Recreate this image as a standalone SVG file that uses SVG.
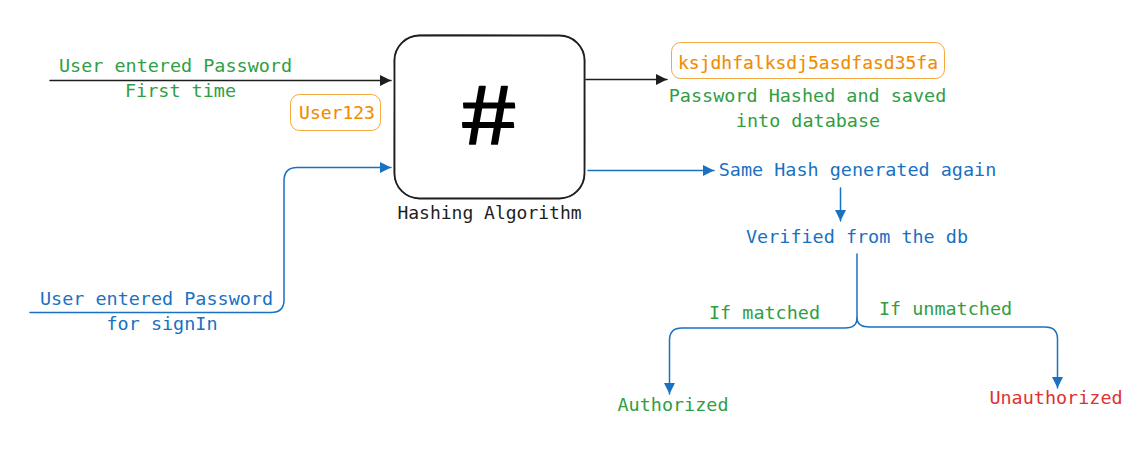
<svg xmlns="http://www.w3.org/2000/svg" width="1142" height="456" viewBox="0 0 1142 456">
<style>
text{font-family:"DejaVu Sans Mono","Liberation Mono",monospace;font-size:18.450px;text-anchor:middle}
.g{fill:#2f9e44}.b{fill:#1971c2}.r{fill:#e03131}
.o{fill:#f08c00;font-size:18px;stroke:#f08c00;stroke-width:.12px}
.k{fill:#1e1e1e;font-size:18px}
.c{fill:none;stroke-width:1.5;stroke-linecap:round;stroke-linejoin:round}
.cb{stroke:#1971c2}.ck{stroke:#1e1e1e}
.tag{fill:none;stroke:#f08c00;stroke-width:1;opacity:.75}
</style>
<defs>
<marker id="ak" markerUnits="userSpaceOnUse" markerWidth="12" markerHeight="12" refX="11" refY="6" orient="auto"><path d="M0 0L11 5.500L0 11Z" transform="translate(0 .5)" fill="#1e1e1e"/></marker>
<marker id="ab" markerUnits="userSpaceOnUse" markerWidth="12" markerHeight="12" refX="11" refY="6" orient="auto"><path d="M0 0L11 5.500L0 11Z" transform="translate(0 .5)" fill="#1971c2"/></marker>
</defs>
<rect width="1142" height="456" fill="#fff"/>
<g id="connectors">
<path class="c ck" marker-end="url(#ak)" d="M50 80.500H391"/>
<path class="c ck" marker-end="url(#ak)" d="M586 79.500H667"/>
<path class="c cb" marker-end="url(#ab)" d="M30 312.500H271Q284 312.500 284 300V181Q284 167.500 297 167.500H391"/>
<path class="c cb" marker-end="url(#ab)" d="M588 170.500H714"/>
<path class="c cb" marker-end="url(#ab)" d="M840.500 188V221"/>
<path class="c cb" marker-end="url(#ab)" d="M857 254V318Q857 328 845 328H682Q669.500 328 669.500 340V394"/>
<path class="c cb" marker-end="url(#ab)" d="M857 318Q857 327 870 327H1045Q1057.500 327 1057.500 339V388"/>
</g>
<g id="hash-node">
<rect x="394.500" y="35.500" width="190" height="163" rx="25" fill="#fff" stroke="#1e1e1e" stroke-width="1.800"/>
<path d="M420 35C470 34 530 36 560 35.500C574 36 585 47 585 60C584.500 100 585.500 150 584.500 172C584 187 573 198 559 198.500C520 199 450 198 420 198.500C405 198 394 186 394 172C393.500 130 395 90 394 60C394.500 46 406 36 420 35Z" fill="none" stroke="#1e1e1e" stroke-width="1" opacity=".5"/>
<text transform="translate(490.500 143.500) skewX(4) scale(1.140 1)" style="font-size:84px;font-family:'Liberation Sans',Arial,sans-serif" fill="#000" stroke="#000" stroke-width="1.700" stroke-linejoin="round">#</text>
<text class="k" x="489.500" y="219">Hashing Algorithm</text>
</g>
<g id="input-first">
<text class="g" x="175.500" y="72">User entered Password</text>
<text class="g" x="180.500" y="97">First time</text>
</g>
<g id="user123">
<rect class="tag" x="290.500" y="94.500" width="90" height="36" rx="9"/>
<text class="o" x="337" y="119">User123</text>
</g>
<g id="hash-value">
<rect class="tag" x="671.500" y="42.500" width="273" height="36" rx="9"/>
<text class="o" x="808" y="69">ksjdhfalksdj5asdfasd35fa</text>
</g>
<g id="saved">
<text class="g" x="807.500" y="102">Password Hashed and saved</text>
<text class="g" x="808" y="127">into database</text>
</g>
<g id="input-signin">
<text class="b" x="156.500" y="305">User entered Password</text>
<text class="b" x="162" y="330">for signIn</text>
</g>
<g id="same-hash">
<text class="b" x="857.500" y="176">Same Hash generated again</text>
</g>
<g id="verified">
<text class="b" x="857" y="243">Verified from the db</text>
</g>
<g id="if-matched"><text class="g" x="764.500" y="319">If matched</text></g>
<g id="if-unmatched"><text class="g" x="945.500" y="315">If unmatched</text></g>
<g id="authorized"><text class="g" x="673" y="411">Authorized</text></g>
<g id="unauthorized"><text class="r" x="1056" y="404">Unauthorized</text></g>
</svg>
